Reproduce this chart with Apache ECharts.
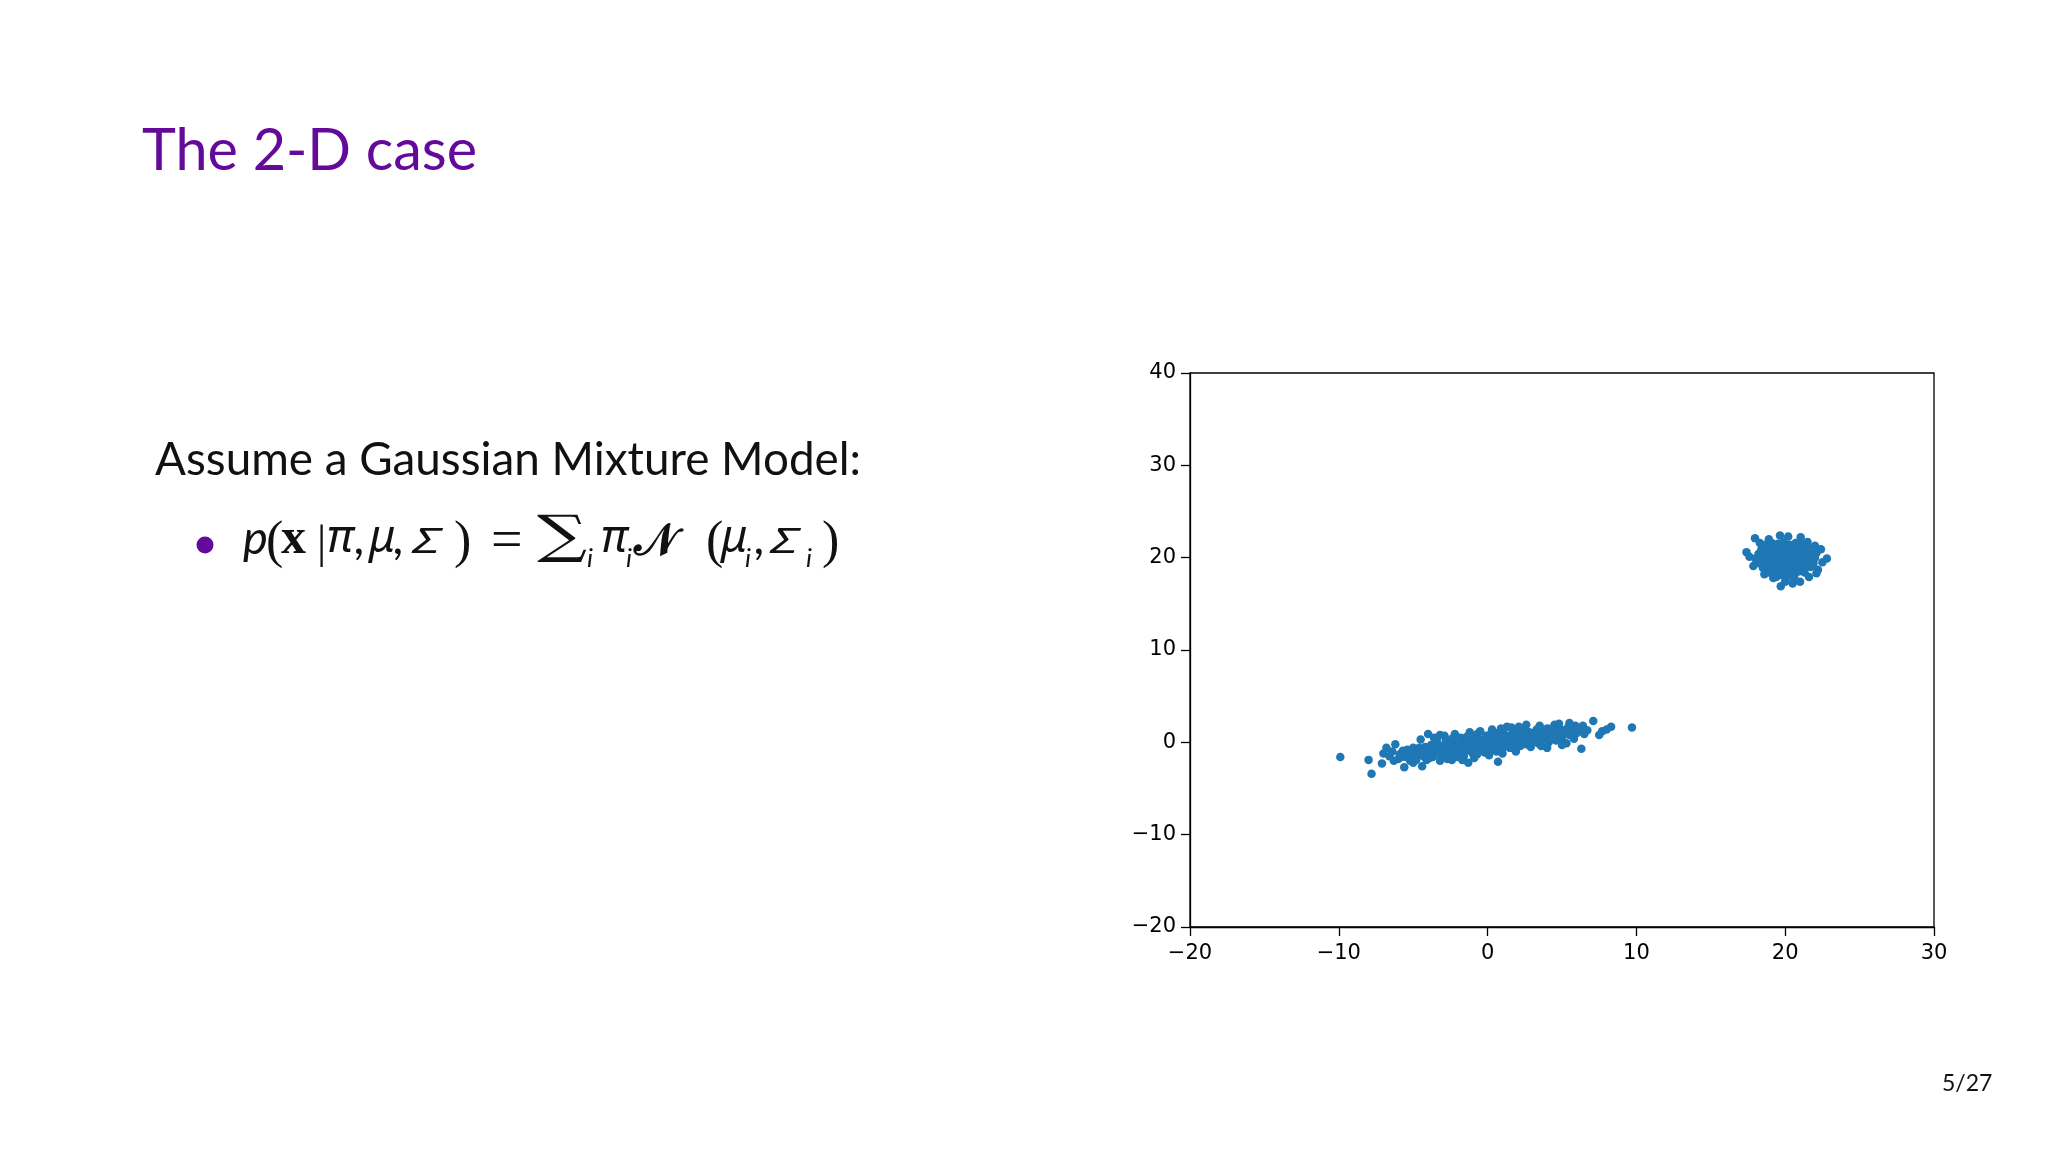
<!DOCTYPE html>
<html><head><meta charset="utf-8">
<script src="https://cdn.jsdelivr.net/npm/echarts@6/dist/echarts.min.js"></script>
<style>html,body{margin:0;padding:0;background:#fff;}#c{width:2048px;height:1152px;}</style>
</head><body><div id="c"></div>
<script>
const xTicks = [-20, -10, 0, 10, 20, 30];
const yTicks = [-20, -10, 0, 10, 20, 30, 40];
const cluster1 = [
[-9.9,-1.6],[-8.0,-1.9],[-7.8,-3.4],[-7.1,-2.3],[-7.0,-1.2],[-6.6,-1.5],[-6.4,-1.0],[-6.2,-0.2],[-6.0,-1.8],[-5.9,-1.3],[-5.7,-0.9],[-5.6,-2.7],[-5.5,-1.6],[-5.3,-1.1],[-5.2,-2.0],[-5.0,-0.6],[-4.9,-1.4],[-4.8,-1.9],[-4.7,-0.8],[-4.6,-1.2],[-4.5,0.3],[-4.4,-2.6],[-4.3,-1.5],[-4.2,-0.5],[-4.1,-1.9],[-4.0,0.9],[-3.9,-1.0],[-3.8,-0.3],[-3.7,-1.6],[-3.6,-0.7],[-3.5,-1.2],[-3.4,0.1],[-3.3,-0.9],[-3.2,0.8],[-3.1,-1.4],[-3.0,-0.4],[-2.9,-1.1],[-2.8,0.2],[-2.7,-1.8],[-2.6,-0.6],[-2.5,-1.0],[-2.4,0.4],[-2.3,-0.2],[-2.2,-1.3],[-2.1,-0.7],[-2.0,0.0],[-1.9,-1.0],[-1.8,0.5],[-1.7,-0.4],[-1.6,-1.5],[-1.5,-0.1],[-1.4,0.6],[-1.3,-2.2],[-1.3,-0.8],[-1.2,0.2],[-1.1,-0.5],[-1.0,-1.2],[-0.9,0.4],[-0.8,-0.3],[-0.7,0.9],[-0.6,-0.9],[-0.5,1.2],[-0.5,0.0],[-0.4,-0.6],[-0.3,0.3],[-0.2,-1.1],[-0.1,0.7],[0.0,-0.2],[0.1,0.1],[0.2,-0.8],[0.3,0.5],[0.4,-0.4],[0.5,1.0],[0.6,-0.1],[0.7,-2.1],[0.7,0.3],[0.8,-0.7],[0.9,0.8],[1.0,0.0],[1.1,-0.5],[1.2,0.4],[1.3,1.7],[1.3,-0.2],[1.4,0.7],[1.5,-0.6],[1.6,0.2],[1.7,1.1],[1.8,-0.3],[1.9,0.5],[2.0,0.9],[2.1,1.7],[2.1,0.0],[2.2,-0.4],[2.3,0.6],[2.4,1.2],[2.5,0.2],[2.6,-0.2],[2.7,0.8],[2.8,0.4],[2.9,-0.5],[3.0,1.0],[3.1,0.1],[3.2,0.6],[3.3,1.4],[3.4,-0.1],[3.5,0.8],[3.6,-0.4],[3.7,0.3],[3.8,1.1],[3.9,0.5],[4.0,1.5],[4.1,0.0],[4.2,0.9],[4.3,0.4],[4.5,1.9],[4.5,1.2],[4.6,0.2],[4.7,0.7],[4.9,1.4],[5.0,0.5],[5.1,1.0],[5.3,-0.1],[5.4,1.6],[5.5,0.8],[5.7,1.2],[5.8,0.4],[5.9,1.8],[6.0,1.0],[6.2,1.5],[6.3,-0.7],[6.4,1.8],[6.5,0.9],[6.7,1.3],[7.1,2.3],[7.5,0.8],[7.7,1.2],[8.0,1.4],[8.3,1.7],[9.7,1.6],
[-5.8,-1.6],[-5.4,-0.8],[-5.1,-1.3],[-4.8,-1.0],[-4.4,-1.4],[-4.1,-0.9],[-3.9,-1.7],[-3.6,-1.3],[-3.3,-0.4],[-3.0,-1.0],[-2.8,-1.4],[-2.6,-0.2],[-2.3,-0.9],[-2.0,-0.5],[-1.8,-1.2],[-1.6,-0.2],[-1.4,-0.9],[-1.1,0.0],[-0.9,-0.6],[-0.7,-1.3],[-0.6,0.3],[-0.3,-0.3],[-0.1,-0.7],[0.1,0.5],[0.3,-0.5],[0.5,0.2],[0.6,-1.0],[0.8,0.1],[1.0,0.6],[1.2,-0.3],[1.4,0.3],[1.6,-0.1],[1.8,0.8],[2.0,0.3],[2.2,0.6],[2.4,-0.1],[2.6,0.5],[2.8,1.1],[3.0,0.3],[3.2,0.9],[3.4,0.4],[3.6,1.0],[3.9,0.8],[4.1,1.2],[4.4,0.6],[4.8,1.0],[5.2,1.3],[5.6,1.5],[6.1,1.3],[-1.9,-0.3],[-1.5,-0.6],[-1.2,-0.4],[-0.8,0.0],[-0.4,0.2],[0.0,0.3],[0.4,0.0],[0.9,-0.2],[1.1,0.9],[1.5,0.5],[1.9,0.2],[2.3,0.9],[2.7,0.1],[3.1,0.7],[3.5,0.2],[-2.5,-0.4],[-3.4,-1.1],[-4.6,-0.6],[-2.1,-1.6],[0.2,0.9],[1.7,-0.6],[2.5,1.4],[4.3,1.5],
[-3.2,-2.0],[-2.4,-1.9],[-1.7,-1.9],[-0.9,-1.7],[0.1,-1.4],[1.0,-1.2],[1.9,-1.0],[-3.6,0.5],[-2.9,0.7],[-2.2,0.9],[-1.2,1.1],[0.3,1.4],[0.9,1.5],[1.6,1.6],[2.6,1.9],[3.5,1.8],[4.8,2.0],[5.5,2.1],[4.0,-0.6],[5.0,-0.3],[-5.0,-2.2],[-6.3,-2.0],[-6.8,-0.6]
];
const cluster2 = [
[17.4,20.6],[17.97,22.1],[19.65,22.4],[21.04,22.2],[22.8,19.9],[22.4,20.9],[19.7,16.9],[20.5,17.2],[21.0,17.4],[21.6,17.9],[22.2,18.7],[17.86,19.1],[18.6,18.2],[17.6,20.1],[18.3,21.6],[18.9,22.0],[20.2,22.3],[21.5,21.7],[22.0,21.3],[22.5,19.5],[22.1,18.3],[20.0,17.4],[19.2,17.8],[18.1,19.6],
[18.7,21.4],[19.1,21.6],[19.5,21.5],[19.9,21.7],[20.3,21.4],[20.7,21.6],[21.1,21.5],
[18.4,20.9],[18.8,21.1],[19.2,20.9],[19.6,21.0],[20.0,21.2],[20.4,20.9],[20.8,21.1],[21.2,20.9],[21.6,21.0],
[18.2,20.4],[18.6,20.6],[19.0,20.5],[19.4,20.4],[19.8,20.6],[20.2,20.5],[20.6,20.4],[21.0,20.6],[21.4,20.5],[21.8,20.4],[22.1,20.5],
[18.0,19.9],[18.4,20.1],[18.8,20.0],[19.2,19.9],[19.6,20.1],[20.0,20.0],[20.4,19.9],[20.8,20.1],[21.2,20.0],[21.6,19.9],[22.0,20.0],
[18.3,19.4],[18.7,19.6],[19.1,19.5],[19.5,19.4],[19.9,19.6],[20.3,19.5],[20.7,19.4],[21.1,19.6],[21.5,19.5],[21.9,19.4],
[18.5,18.9],[18.9,19.1],[19.3,19.0],[19.7,18.9],[20.1,19.1],[20.5,19.0],[20.9,18.9],[21.3,19.1],[21.7,19.0],
[18.9,18.4],[19.3,18.6],[19.7,18.5],[20.1,18.4],[20.5,18.6],[20.9,18.5],[21.3,18.4],
[19.4,17.9],[19.8,18.1],[20.2,18.0],[20.6,17.9],
[19.0,21.2],[20.1,20.8],[20.6,19.7],[19.4,19.2],[21.0,19.3],[20.3,18.8],[19.6,20.4],[21.3,20.3]
];
const fmt = v => v < 0 ? '\u2212' + Math.abs(v) : String(v);
const purple = '#640a9a';
const ink = '#111';
const chart = echarts.init(document.getElementById('c'));
const tickFont = {color:'#000', fontFamily:'DejaVu Sans', fontSize:21};

const BL = 557, SBL = 569;           // main and subscript baselines
const mid = (b, s, k) => b - k * s;  // canvas middle from baseline
const LATO = 0.387, LIB = 0.3375, NOTO = 0.388;
const it = s => 'italic ' + s + 'px Lato';
const gr = s => 'italic ' + s + 'px "Noto Sans"';
const M = 47, G = 45, S = 26, SIGF = 'italic 35px "Noto Sans"';
// [left x, text, font, middle y, scaleX]
const formula = [
  [243, 'p', it(M), mid(BL,M,LATO)],
  [266, '(', '52px "Liberation Serif"', 543.5],
  [281, 'x', 'bold 50px "Liberation Serif"', mid(BL,50,LIB)],
  [317, '|', '46px "Liberation Serif"', 544.8],
  [327, '\u03C0', gr(G), mid(BL,G,NOTO)],
  [355, ',', it(M), mid(BL,M,LATO)],
  [369, '\u03BC', gr(G), mid(BL,G,NOTO)],
  [394, ',', it(M), mid(BL,M,LATO)],
  [412, '\u03A3', SIGF, mid(BL,35,NOTO), 1.55],
  [454, ')', '52px "Liberation Serif"', 543.5],
  [491, '=', '56px "Liberation Serif"', 543],
  [537, '\u2211', '52px "DejaVu Serif"', 538.8, 1.35],
  [587, 'i', it(S), mid(SBL,S,LATO)],
  [601, '\u03C0', gr(G), mid(BL,G,NOTO)],
  [626, 'i', it(S), mid(SBL,S,LATO)],
  [634, '\uD835\uDCA9', 'bold 45px "DejaVu Serif"', 543],
  [706, '(', '52px "Liberation Serif"', 543.5],
  [721, '\u03BC', gr(G), mid(BL,G,NOTO)],
  [745, 'i', it(S), mid(SBL,S,LATO)],
  [755, ',', it(M), mid(BL,M,LATO)],
  [770, '\u03A3', SIGF, mid(BL,35,NOTO), 1.55],
  [806, 'i', it(S), mid(SBL,S,LATO)],
  [822, ')', '52px "Liberation Serif"', 543.5]
];
const graphics = [
  {type:'text', x:142, y:mid(174,57.5,LATO), style:{text:'The 2-D case', font:'57.5px Lato', fill:purple, textVerticalAlign:'middle'}},
  {type:'text', x:155, y:mid(478,45.8,LATO), style:{text:'Assume a Gaussian Mixture Model:', font:'45.8px Lato', fill:ink, textVerticalAlign:'middle'}},
  {type:'circle', shape:{cx:205, cy:545, r:8.5}, style:{fill:purple}},
  {type:'text', x:1942, y:1084, style:{text:'5/27', font:'23px Lato', fill:ink, textVerticalAlign:'middle'}}
];
formula.forEach(f => graphics.push({type:'text', x:f[0], y:f[3], scaleX:f[4]||1,
  style:{text:f[1], font:f[2], fill:ink, textVerticalAlign:'middle', textAlign:'left'}}));

chart.setOption({
  animation:false,
  backgroundColor:'#fff',
  grid:{left:1190, top:373, right:114, bottom:225, show:true, borderColor:'#000', borderWidth:1.3},
  xAxis:{type:'value', min:xTicks[0], max:xTicks[xTicks.length-1], interval:10,
    axisLine:{show:true, onZero:false, lineStyle:{color:'#000', width:1.3}},
    axisTick:{show:true, length:9, lineStyle:{color:'#000', width:1.3}},
    splitLine:{show:false},
    axisLabel:Object.assign({margin:16, formatter:fmt}, tickFont)},
  yAxis:{type:'value', min:yTicks[0], max:yTicks[yTicks.length-1], interval:10,
    axisLine:{show:true, onZero:false, lineStyle:{color:'#000', width:1.3}},
    axisTick:{show:true, length:9, lineStyle:{color:'#000', width:1.3}},
    splitLine:{show:false},
    axisLabel:Object.assign({margin:14, formatter:fmt}, tickFont)},
  series:[
    {type:'scatter', data:cluster1, symbolSize:8.5, itemStyle:{color:'#1f77b4', opacity:1}},
    {type:'scatter', data:cluster2, symbolSize:8.5, itemStyle:{color:'#1f77b4', opacity:1}}
  ],
  graphic:graphics
});
</script></body></html>
